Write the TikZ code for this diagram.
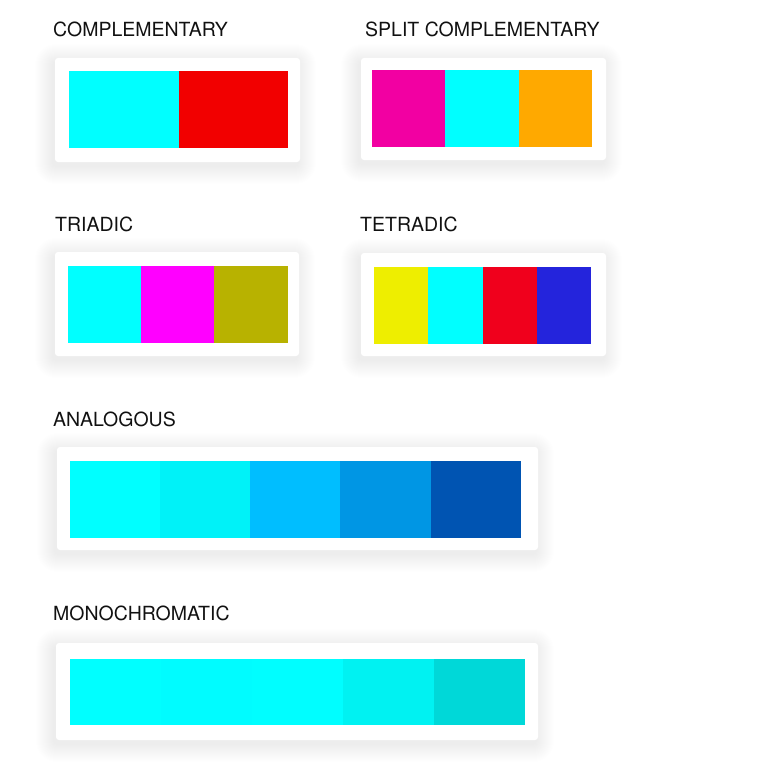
\documentclass[tikz,border=0pt]{standalone}
\usepackage{fontspec}
\setmainfont{TeX Gyre Heros}
\definecolor{cy}{HTML}{00FFFF}
\definecolor{compred}{HTML}{F20000}
\definecolor{splitmag}{HTML}{F200A2}
\definecolor{splitorg}{HTML}{FFA900}
\definecolor{trimag}{HTML}{FF00FF}
\definecolor{triolive}{HTML}{B8B200}
\definecolor{tetyel}{HTML}{EEEE00}
\definecolor{tetred}{HTML}{F0001C}
\definecolor{tetblue}{HTML}{2424DC}
\definecolor{anB}{HTML}{00F2F8}
\definecolor{anC}{HTML}{00BEFF}
\definecolor{anD}{HTML}{0096E4}
\definecolor{anE}{HTML}{0054B2}
\definecolor{moB}{HTML}{00FCFF}
\definecolor{moC}{HTML}{00FEFF}
\definecolor{moD}{HTML}{00F2F2}
\definecolor{moE}{HTML}{00D8D8}
\definecolor{ink}{HTML}{111111}
\tikzset{
  card/.style={fill=white, rounded corners=3pt},
  shadowlayer/.style={fill=black, opacity=0.0045},
  title/.style={anchor=base west, inner sep=0pt, text=ink, font=\fontsize{19.5}{20}\selectfont},
}
\newcommand\cardwithshadow[4]{%
  \foreach \r in {1,...,18}{%
    \fill[shadowlayer, rounded corners={\r*1pt+3pt}] ({#1-\r-2},{#2-\r+4}) rectangle ({#3+\r-2},{#4+\r+4});
  }%
  \path[card] (#1,#2) rectangle (#3,#4);%
}
\begin{document}
\begin{tikzpicture}[x=1pt,y=-1pt]
\useasboundingbox[fill=white] (0,0) rectangle (768,768);
% titles
\node[title] (tcomp) at (53,37) {COMPLEMENTARY};
\node[title] (tsplit) at (365,37) {SPLIT COMPLEMENTARY};
\node[title] (ttri) at (55,231) {TRIADIC};
\node[title] (ttet) at (360,231) {TETRADIC};
\node[title] (tana) at (53,426) {ANALOGOUS};
\node[title] (tmono) at (53,620) {MONOCHROMATIC};
% cards
\cardwithshadow{55}{58}{300}{162}
\cardwithshadow{361}{58}{606}{160}
\cardwithshadow{55}{252}{299}{356}
\cardwithshadow{361}{253}{606}{356}
\cardwithshadow{57}{447}{538}{550}
\cardwithshadow{56}{643}{538}{740}
% complementary
\fill[cy] (69,71) rectangle (179,148);
\fill[compred] (179,71) rectangle (288,148);
% split complementary
\fill[splitmag] (372,70) rectangle (445,147);
\fill[cy] (445,70) rectangle (519,147);
\fill[splitorg] (519,70) rectangle (592,147);
% triadic
\fill[cy] (68,266) rectangle (141,343);
\fill[trimag] (141,266) rectangle (214,343);
\fill[triolive] (214,266) rectangle (288,343);
% tetradic
\fill[tetyel] (374,267) rectangle (428,344);
\fill[cy] (428,267) rectangle (483,344);
\fill[tetred] (483,267) rectangle (537,344);
\fill[tetblue] (537,267) rectangle (591,344);
% analogous
\fill[cy] (70,461) rectangle (160,538);
\fill[anB] (160,461) rectangle (250,538);
\fill[anC] (250,461) rectangle (340,538);
\fill[anD] (340,461) rectangle (431,538);
\fill[anE] (431,461) rectangle (521,538);
% monochromatic
\fill[cy] (70,659) rectangle (161,725);
\fill[moB] (161,659) rectangle (252,725);
\fill[moC] (252,659) rectangle (343,725);
\fill[moD] (343,659) rectangle (434,725);
\fill[moE] (434,659) rectangle (525,725);
\end{tikzpicture}
\end{document}
